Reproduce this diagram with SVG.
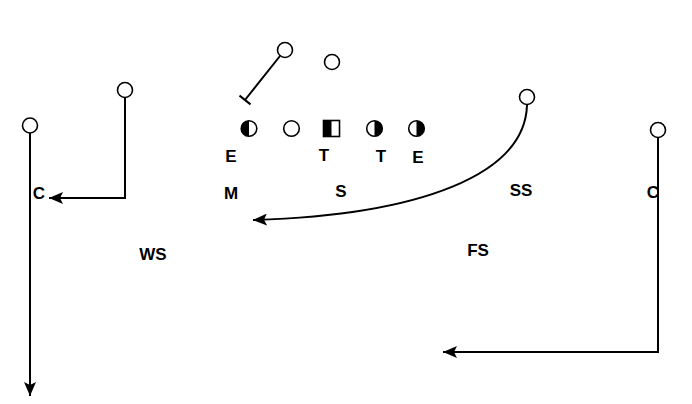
<svg xmlns="http://www.w3.org/2000/svg" width="692" height="404" viewBox="0 0 692 404">
<defs>
<style>
.p{fill:#fff;stroke:#000;stroke-width:1.6}
.f{fill:#000;stroke:none}
.c{fill:none;stroke:#000;stroke-width:2}
.t{font-family:"Liberation Sans",Arial,sans-serif;font-weight:bold;font-size:17px;fill:#000;text-anchor:middle}
</style>
<marker id="ah" viewBox="0 0 14 12" refX="14" refY="6" markerWidth="14" markerHeight="12" markerUnits="userSpaceOnUse" orient="auto">
<path d="M0,0 L14,6 L0,12 L3,6 Z" fill="#000"/>
</marker>
</defs>
<rect width="692" height="404" fill="#fff"/>
<g id="connectors">
<path class="c" d="M30,133 L30,396" marker-end="url(#ah)"/>
<path class="c" d="M125,98 L125,198 L49,198" marker-end="url(#ah)"/>
<path class="c" d="M280,56 L245,100 M239.5,95.6 L250.5,104.4"/>
<path class="c" d="M527,105 C525,175 420,215 253,220" marker-end="url(#ah)"/>
<path class="c" d="M658,138 L658,352 L443,352" marker-end="url(#ah)"/>
</g>
<g id="n-left-wr"><circle class="p" cx="30" cy="125.5" r="7.5"/></g>
<g id="n-slot-left"><circle class="p" cx="125" cy="90" r="7.5"/></g>
<g id="n-back1"><circle class="p" cx="285" cy="50" r="7.5"/></g>
<g id="n-back2"><circle class="p" cx="332" cy="62" r="7.5"/></g>
<g id="n-slot-right"><circle class="p" cx="527" cy="97" r="7.5"/></g>
<g id="n-right-wr"><circle class="p" cx="658" cy="130" r="7.5"/></g>
<g id="n-ol1"><circle class="p" cx="249" cy="128.5" r="7.8"/><path class="f" d="M249,120.7 A7.8,7.8 0 0 0 249,136.3 Z"/></g>
<g id="n-ol2"><circle class="p" cx="291.5" cy="128.5" r="7.8"/></g>
<g id="n-center"><rect class="p" x="323.5" y="120.5" width="16" height="16"/><rect class="f" x="323.5" y="120.5" width="8" height="16"/></g>
<g id="n-ol4"><circle class="p" cx="374.5" cy="128.5" r="7.8"/><path class="f" d="M374.5,120.7 A7.8,7.8 0 0 1 374.5,136.3 Z"/></g>
<g id="n-ol5"><circle class="p" cx="416.5" cy="128.5" r="7.8"/><path class="f" d="M416.5,120.7 A7.8,7.8 0 0 1 416.5,136.3 Z"/></g>
<g id="labels">
<text class="t" x="231" y="162">E</text>
<text class="t" x="324" y="161">T</text>
<text class="t" x="381" y="162">T</text>
<text class="t" x="418" y="163">E</text>
<text class="t" x="231" y="199">M</text>
<text class="t" x="341" y="197">S</text>
<text class="t" x="521" y="196">SS</text>
<text class="t" x="153" y="260">WS</text>
<text class="t" x="478" y="256">FS</text>
<text class="t" x="39" y="199">C</text>
<text class="t" x="653" y="198">C</text>
</g>
</svg>
